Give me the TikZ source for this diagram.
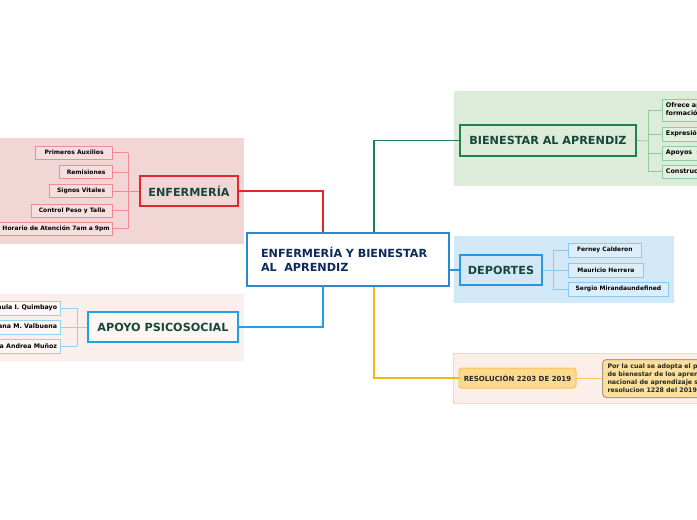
\documentclass[tikz,border=0pt]{standalone}
\usepackage{fontspec}
\setmainfont{DejaVu Sans}
\definecolor{pinkbg}{HTML}{F2D5D5}
\definecolor{pinkleaf}{HTML}{F6DEDE}
\definecolor{redmain}{HTML}{E2262E}
\definecolor{redlight}{HTML}{F08C90}
\definecolor{greenbg}{HTML}{DDEBD9}
\definecolor{greenmain}{HTML}{1F8050}
\definecolor{greenlight}{HTML}{8FCB9E}
\definecolor{greenleaf}{HTML}{E3F0E0}
\definecolor{bluebg}{HTML}{D3E8F7}
\definecolor{bluemain}{HTML}{2B96DC}
\definecolor{bluelight}{HTML}{8CC8F0}
\definecolor{blueleaf}{HTML}{DDEEFB}
\definecolor{apoyobg}{HTML}{FBEFEB}
\definecolor{cyanmain}{HTML}{1BA3E4}
\definecolor{cyanlight}{HTML}{92D2F0}
\definecolor{apoyoleaf}{HTML}{FDF6F4}
\definecolor{resbg}{HTML}{FCEFEA}
\definecolor{resborder}{HTML}{FAD6BC}
\definecolor{orangemain}{HTML}{F8B418}
\definecolor{resfill}{HTML}{FDD98C}
\definecolor{resdraw}{HTML}{F7C35C}
\definecolor{descfill}{HTML}{FBE09C}
\definecolor{descdraw}{HTML}{A89C88}
\definecolor{maintext}{HTML}{16473A}
\definecolor{navy}{HTML}{0E2A5C}
\definecolor{centerdraw}{HTML}{2A8AD0}
\tikzset{
  bigbox/.style={draw, line width=1.6pt, font=\bfseries\fontsize{11.2}{13}\selectfont, text=maintext, minimum height=30pt, inner sep=0pt},
  leaf/.style={draw, line width=0.8pt, font=\bfseries\fontsize{6.0}{8}\selectfont, text=black, minimum height=13pt, inner xsep=3.5pt, inner ysep=0pt},
  conn/.style={line width=1.1pt},
  sub/.style={line width=0.8pt}
}
\begin{document}
\begin{tikzpicture}[x=1pt,y=-1pt]
\useasboundingbox (0,0) rectangle (697,520);
\clip (0,0) rectangle (697,520);
% regions
\fill[pinkbg] (0,138) rectangle (244,244);
\fill[greenbg] (454,91) rectangle (697,186);
\fill[bluebg] (454,236) rectangle (674,303);
\fill[apoyobg] (0,294) rectangle (244,361);
\filldraw[fill=resbg, draw=resborder, line width=0.8pt] (453,353) rectangle (720,403);

% central node
\node[draw=centerdraw, line width=1.6pt, fill=white, minimum width=202pt, minimum height=53pt,
      text width=174pt, inner xsep=14pt, align=left, text=navy,
      font=\bfseries\fontsize{11.2}{14}\selectfont] (c) at (348,259.5)
      {ENFERMERÍA Y BIENESTAR\\AL\ \ APRENDIZ};

% main branches
\node[bigbox, draw=redmain, fill=pinkbg, minimum width=98pt] (enf) at (189,191) {ENFERMERÍA};
\node[bigbox, draw=greenmain, fill=greenbg, minimum width=176pt, minimum height=31pt] (bien) at (548,140.5) {BIENESTAR AL APRENDIZ};
\node[bigbox, draw=bluemain, fill=bluebg, minimum width=82pt] (dep) at (501,270) {DEPORTES};
\node[bigbox, draw=cyanmain, fill=apoyoleaf, minimum width=150pt] (apo) at (163,327) {APOYO PSICOSOCIAL};
\node[draw=resdraw, fill=resfill, line width=1pt, rounded corners=3pt, minimum width=117pt, minimum height=20pt, inner sep=0pt,
      font=\bfseries\fontsize{7}{8}\selectfont, text=black!85] (res) at (517.5,378) {RESOLUCIÓN 2203 DE 2019};
\node[draw=descdraw, fill=descfill, line width=1pt, rounded corners=4pt, anchor=north west, align=left,
      minimum height=38pt, inner xsep=5pt, inner ysep=3pt, font=\bfseries\fontsize{6.3}{8}\selectfont, text=black!85] (desc) at (602,359)
      {Por la cual se adopta el plan\\de bienestar de los aprendices\\nacional de aprendizaje sena\\resolucion 1228 del 2019 y};

% main connectors
\draw[conn, redmain] ([xshift=-25pt]c.north) |- (enf.east);
\draw[conn, greenmain] ([xshift=26pt]c.north) |- (bien.west);
\draw[conn, cyanmain] ([xshift=-25pt]c.south) |- (apo.east);
\draw[conn, orangemain] ([xshift=26pt]c.south) |- (res.west);
\draw[conn, bluemain] (dep.west) -- (dep.west -| c.east);
\draw[sub, orangemain!70] (res.east) -- (desc.west |- res.east);

% enfermeria leaves
\begin{scope}[every node/.style={leaf, draw=redlight, fill=pinkleaf, anchor=east}]
\node[minimum width=77pt] (e1) at (113,152.5) {Primeros Auxilios};
\node[minimum width=53pt] (e2) at (113,172) {Remisiones};
\node[minimum width=63pt] (e3) at (113,191) {Signos Vitales};
\node[minimum width=81pt] (e4) at (113,210.5) {Control Peso y Talla};
\node[minimum width=113pt, inner xsep=2pt] (e5) at (113,228.5) {Horario de Atención 7am a 9pm};
\end{scope}
\coordinate (et) at (128,191);
\draw[sub, redlight] (enf.west) -- (et);
\foreach \n in {e1,e2,e3,e4,e5} \draw[sub, redlight] (\n.east) -- (\n.east -| et);
\draw[sub, redlight] (e1.east -| et) -- (e5.east -| et);

% bienestar leaves
\begin{scope}[every node/.style={leaf, draw=greenlight, fill=greenleaf, anchor=west, font=\bfseries\fontsize{6.4}{8}\selectfont}]
\node[minimum height=22pt, align=left] (b1) at (662,110) {Ofrece apoyos de\\formación integral};
\node[minimum height=14pt] (b2) at (662,134) {Expresión cultural};
\node[minimum height=14pt] (b3) at (662,153) {Apoyos \ socioeconómicos};
\node[minimum height=13pt] (b4) at (662,171.5) {Construcción de proyecto};
\end{scope}
\coordinate (bt) at (648,141);
\draw[sub, greenlight] (bien.east) -- (bt);
\foreach \n in {b1,b2,b3,b4} \draw[sub, greenlight] (\n.west) -- (\n.west -| bt);
\draw[sub, greenlight] (b1.west -| bt) -- (b4.west -| bt);

% deportes leaves
\begin{scope}[every node/.style={leaf, draw=bluelight, fill=blueleaf, anchor=west, minimum height=14pt}]
\node[minimum width=73pt] (d1) at (568,250) {Ferney Calderon};
\node[minimum width=75pt] (d2) at (568,270) {Mauricio Herrera};
\node[minimum width=100pt] (d3) at (568,289) {Sergio Mirandaundefined};
\end{scope}
\coordinate (dt) at (553,270);
\draw[sub, bluelight] (dep.east) -- (dt);
\foreach \n in {d1,d2,d3} \draw[sub, bluelight] (\n.west) -- (\n.west -| dt);
\draw[sub, bluelight] (d1.west -| dt) -- (d3.west -| dt);

% apoyo leaves
\begin{scope}[every node/.style={leaf, draw=cyanlight, fill=apoyoleaf, anchor=east, minimum height=14pt, font=\bfseries\fontsize{6.3}{8}\selectfont}]
\node (a1) at (61,308) {Paula I. Quimbayo};
\node (a2) at (61,327) {Johana M. Valbuena};
\node (a3) at (61,346) {Luisa Andrea Muñoz};
\end{scope}
\coordinate (at) at (77,327);
\draw[sub, cyanlight] (apo.west) -- (at);
\foreach \n in {a1,a2,a3} \draw[sub, cyanlight] (\n.east) -- (\n.east -| at);
\draw[sub, cyanlight] (a1.east -| at) -- (a3.east -| at);
\end{tikzpicture}
\end{document}
